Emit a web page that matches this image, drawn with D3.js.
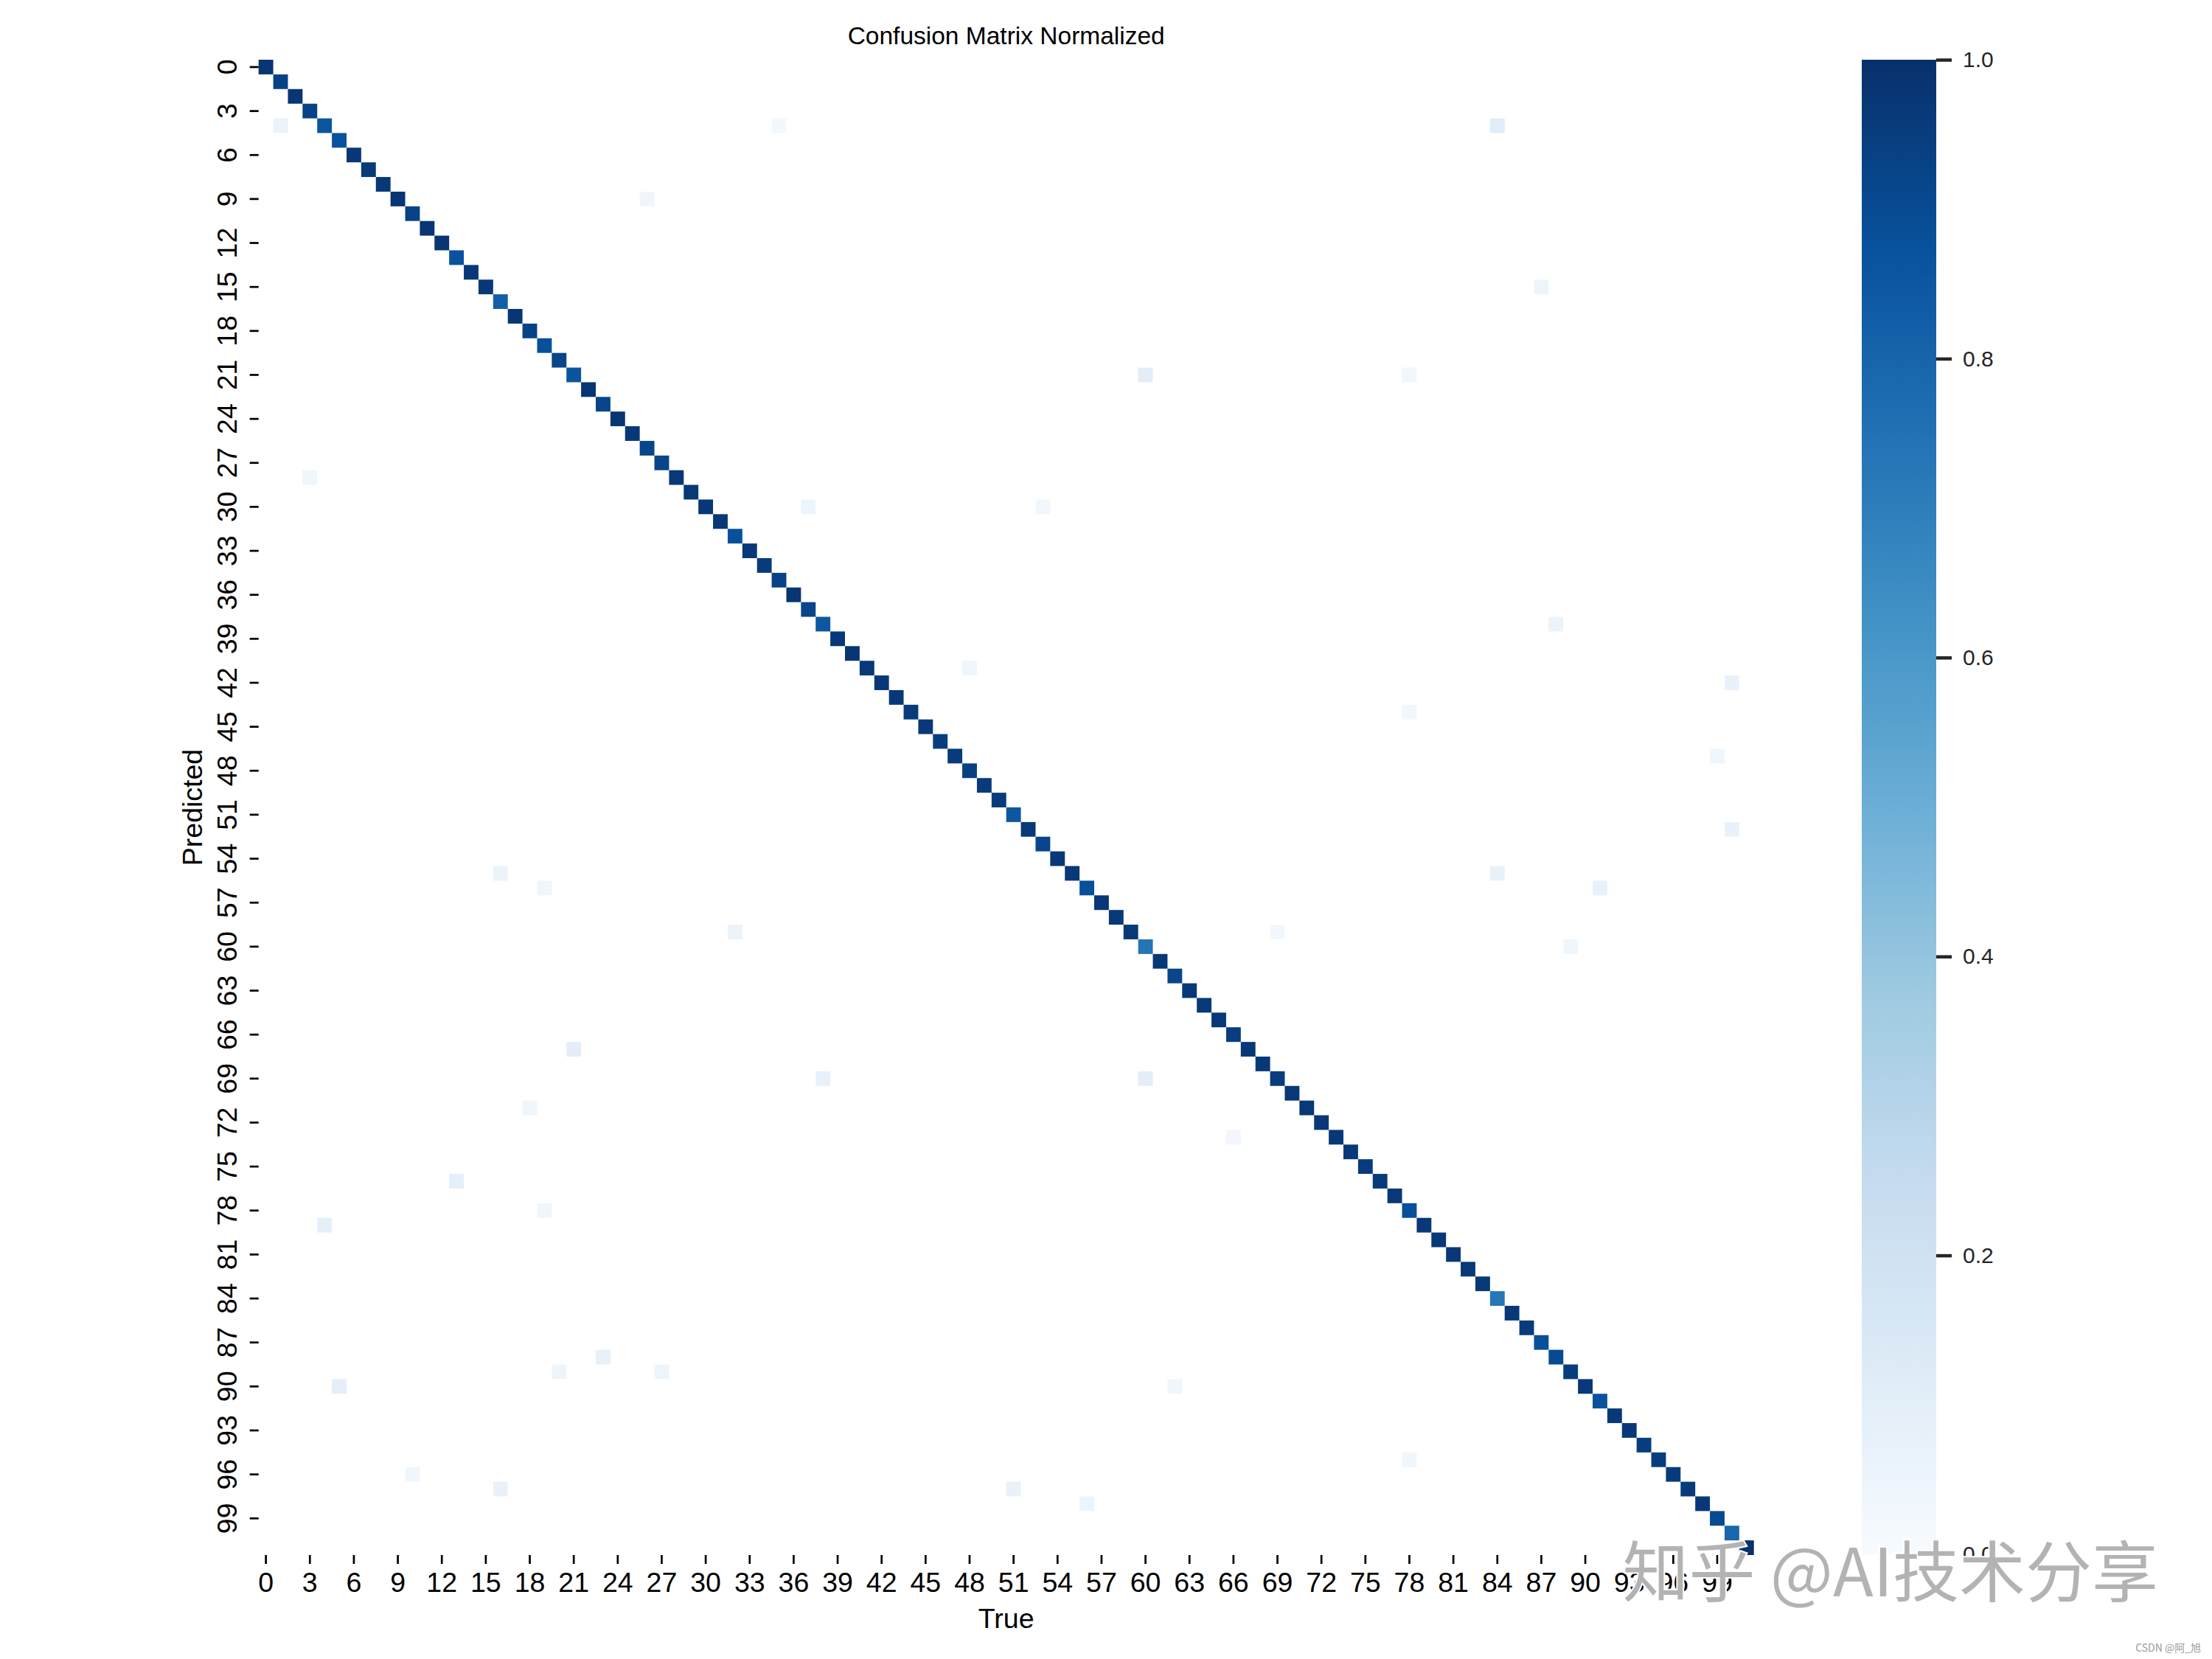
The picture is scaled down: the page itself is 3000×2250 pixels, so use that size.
<!DOCTYPE html>
<html>
<head>
<meta charset="utf-8">
<script src="https://cdn.jsdelivr.net/npm/d3@7"></script>
<style>
  body { margin: 0; background: #fff; }
  svg text { font-family: "Liberation Sans", Arial, sans-serif; }
</style>
</head>
<body>
<svg></svg>
<script>
// class ids 0..101 on both axes, labels every 3rd class
let classes = d3.range(102)
let tickLabels = d3.range(0, 100, 3)

// normalized diagonal (correct predictions)
let diagonal = [
    0.98, 0.93, 0.98, 0.93, 0.86, 0.87, 0.97, 0.96, 0.97, 0.98,
    0.93, 0.98, 0.98, 0.87, 0.97, 0.97, 0.82, 0.98, 0.93, 0.88,
    0.92, 0.86, 0.98, 0.92, 0.98, 0.97, 0.92, 0.92, 0.97, 0.97,
    0.97, 0.97, 0.88, 0.97, 0.96, 0.93, 0.98, 0.92, 0.85, 0.97,
    0.98, 0.97, 0.97, 0.97, 0.96, 0.97, 0.95, 0.96, 0.94, 0.96,
    0.96, 0.85, 0.97, 0.92, 0.97, 0.97, 0.88, 0.97, 0.97, 0.97,
    0.74, 0.97, 0.92, 0.97, 0.97, 0.97, 0.95, 0.97, 0.97, 0.95,
    0.97, 0.97, 0.97, 0.97, 0.97, 0.96, 0.96, 0.97, 0.88, 0.97,
    0.97, 0.97, 0.97, 0.97, 0.73, 0.97, 0.96, 0.88, 0.90, 0.95,
    0.97, 0.87, 0.97, 0.97, 0.95, 0.95, 0.96, 0.96, 0.97, 0.90,
    0.79, 1.00
]

// off-diagonal confusions: predicted row, true column, value
let offRows   = [4, 4, 4, 9, 15, 21, 21, 28, 30, 30, 38, 41, 42, 44, 47, 52, 55, 55, 56, 56,
                 59, 59, 60, 67, 69, 69, 71, 73, 76, 78, 79, 88, 89, 89, 90, 90, 95, 96, 97, 97, 98]
let offCols   = [1, 35, 84, 26, 87, 60, 78, 3, 37, 53, 88, 48, 100, 78, 99, 100, 16, 84, 19, 91,
                 32, 69, 89, 21, 38, 60, 18, 66, 13, 19, 4, 23, 20, 27, 5, 62, 78, 10, 16, 51, 56]
let offValues = [0.06, 0.02, 0.11, 0.04, 0.05, 0.10, 0.03, 0.04, 0.05, 0.03, 0.06, 0.04, 0.07, 0.03, 0.04,
                 0.07, 0.06, 0.08, 0.04, 0.07, 0.06, 0.03, 0.04, 0.10, 0.08, 0.10, 0.04, 0.03, 0.09, 0.04,
                 0.09, 0.08, 0.05, 0.05, 0.09, 0.04, 0.04, 0.04, 0.07, 0.07, 0.05]

let colorTicks = [0, 0.2, 0.4, 0.6, 0.8, 1.0]
let bluesStops = ["#f7fbff", "#deebf7", "#c6dbef", "#9ecae1", "#6baed6", "#4292c6", "#2171b5", "#08519c", "#08306b"]

let width = 3000
let height = 2250
let plotLeft = 350.7
let plotTop = 81
let side = 2028

let svg = d3.select("svg")
    .attr("width", width)
    .attr("height", height)

let xScale = d3.scaleBand()
                .domain(classes)
                .range([plotLeft, plotLeft + side])

let yScale = d3.scaleBand()
                .domain(classes)
                .range([plotTop, plotTop + side])

let color = d3.scaleLinear()
                .domain(bluesStops.map((c, i) => i / (bluesStops.length - 1)))
                .range(bluesStops)
                .interpolate(d3.interpolateRgb)

let cells = diagonal.map((v, i) => ({ row: i, col: i, value: v }))
offRows.forEach((r, i) => {
    cells.push({ row: r, col: offCols[i], value: offValues[i] })
})

svg.append("g")
    .selectAll("rect")
    .data(cells)
    .enter()
    .append("rect")
    .attr("x", (d) => xScale(d.col))
    .attr("y", (d) => yScale(d.row))
    .attr("width", xScale.bandwidth())
    .attr("height", yScale.bandwidth())
    .attr("fill", (d) => color(d.value))

// axes
let xAxis = d3.axisBottom(xScale).tickValues(tickLabels).tickSize(12)
let yAxis = d3.axisLeft(yScale).tickValues(tickLabels).tickSize(12)

let gx = svg.append("g")
    .attr("transform", "translate(0," + (plotTop + side) + ")")
    .call(xAxis)

let gy = svg.append("g")
    .attr("transform", "translate(" + plotLeft + ",0)")
    .call(yAxis)

let styleAxis = (g) => {
    g.select(".domain").remove()
    g.selectAll(".tick line").attr("stroke", "#000").attr("stroke-width", 2.7)
    g.selectAll(".tick text")
        .attr("fill", "#000")
        .style("font-size", "37.5px")
}
styleAxis(gx)
styleAxis(gy)

gx.selectAll(".tick text")
    .attr("y", 50)
    .attr("dy", null)

gy.selectAll(".tick text")
    .attr("x", null)
    .attr("dy", null)
    .attr("text-anchor", "middle")
    .attr("transform", "translate(-30,0) rotate(-90)")

// labels
svg.append("text")
    .attr("x", plotLeft + side / 2)
    .attr("y", 60)
    .attr("text-anchor", "middle")
    .style("font-size", "33.5px")
    .text("Confusion Matrix Normalized")

svg.append("text")
    .attr("x", plotLeft + side / 2)
    .attr("y", 2208)
    .attr("text-anchor", "middle")
    .style("font-size", "37.5px")
    .text("True")

svg.append("text")
    .attr("transform", "translate(274," + (plotTop + side / 2) + ") rotate(-90)")
    .attr("text-anchor", "middle")
    .style("font-size", "37.5px")
    .text("Predicted")

// colorbar
let cbLeft = 2525
let cbWidth = 101
let cbScale = d3.scaleLinear()
                .domain([0, 1])
                .range([2108, plotTop])

let grad = svg.append("defs")
    .append("linearGradient")
    .attr("id", "blues")
    .attr("x1", 0).attr("y1", 1)
    .attr("x2", 0).attr("y2", 0)

grad.selectAll("stop")
    .data(bluesStops)
    .enter()
    .append("stop")
    .attr("offset", (c, i) => i / (bluesStops.length - 1))
    .attr("stop-color", (c) => c)

svg.append("rect")
    .attr("x", cbLeft)
    .attr("y", cbScale(1))
    .attr("width", cbWidth)
    .attr("height", cbScale(0) - cbScale(1))
    .attr("fill", "url(#blues)")

let cbAxis = svg.append("g")
    .attr("transform", "translate(" + (cbLeft + cbWidth) + ",0)")
    .call(d3.axisRight(cbScale).tickValues(colorTicks).tickFormat(d3.format(".1f")).tickSize(21).tickPadding(15))

cbAxis.select(".domain").remove()
cbAxis.selectAll(".tick line").attr("stroke", "#262626").attr("stroke-width", 4.5)
cbAxis.selectAll(".tick text")
    .attr("fill", "#262626")
    .style("font-size", "30px")

// watermarks of the source image
svg.append("text")
    .attr("x", 2927)
    .attr("y", 2165)
    .attr("text-anchor", "end")
    .attr("fill", "#b3b3b3")
    .attr("stroke", "#fff")
    .attr("stroke-width", 4)
    .attr("paint-order", "stroke")
    .style("font-family", "'Noto Sans CJK SC', sans-serif")
    .style("font-size", "90px")
    .text("知乎 @AI技术分享")

svg.append("text")
    .attr("x", 2985)
    .attr("y", 2240)
    .attr("text-anchor", "end")
    .attr("fill", "#9a9a9a")
    .style("font-family", "'Noto Sans CJK SC', sans-serif")
    .style("font-size", "14px")
    .text("CSDN @阿_旭")
</script>
</body>
</html>
